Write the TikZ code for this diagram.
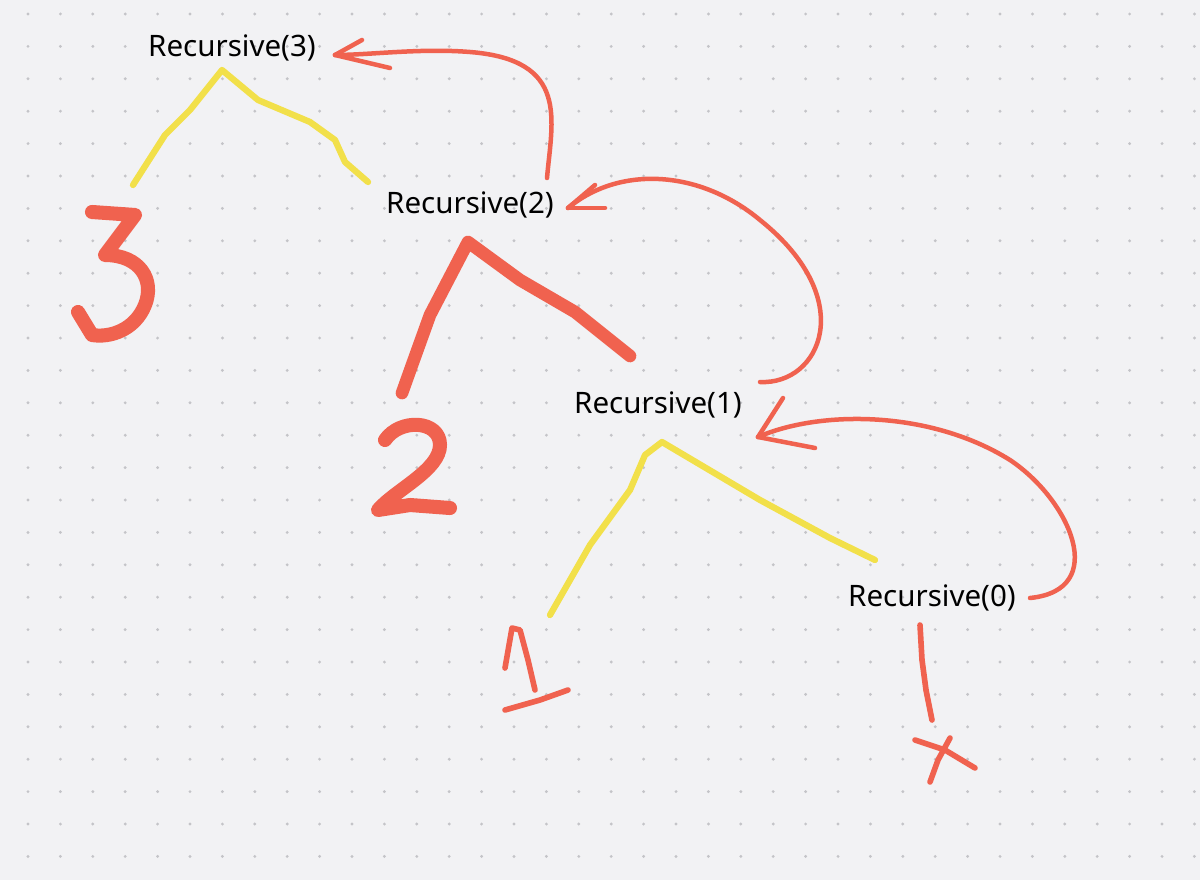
\documentclass[tikz,border=0pt]{standalone}
\usepackage{fontspec}
\setmainfont{Noto Sans}
\usetikzlibrary{arrows.meta}
\definecolor{bg}{HTML}{F2F2F4}
\definecolor{rd}{HTML}{F0624F}
\definecolor{yl}{HTML}{F2E04A}
\definecolor{dt}{HTML}{C4C4C8}
\begin{document}
\begin{tikzpicture}[x=0.025cm,y=-0.025cm,
  lbl/.style={font=\fontsize{21}{24}\selectfont,text=black},
  ybr/.style={draw=yl,line width=4.5pt,line cap=round,line join=round},
  rbr/.style={draw=rd,line width=9pt,line cap=round,line join=round},
  thin/.style={draw=rd,line width=4pt,line cap=round,line join=round},
  arr/.style={draw=rd,line width=3.2pt,line cap=round,line join=round},
  dig/.style={draw=rd,line width=10pt,line cap=round,line join=round}]
\fill[bg] (0,0) rectangle (1200,880);
\useasboundingbox (0,0) rectangle (1200,880);
\foreach \i in {0,...,37}{\foreach \j in {0,...,27}{
  \fill[dt] (28+\i*32.4,14+\j*32.4) circle (1.6);}}
\node[lbl] (r3) at (232,48) {Recursive(3)};
\node[lbl] (r2) at (470,205) {Recursive(2)};
\node[lbl] (r1) at (658,405) {Recursive(1)};
\node[lbl] (r0) at (932,598) {Recursive(0)};
% digit 3
\draw[dig] (92,212) -- (135,215) -- (105,255) .. controls (140,255) and (155,280) .. (145,305) .. controls (135,330) and (110,338) .. (92,335) -- (78,312);
% digit 2
\draw[dig] (385,440) .. controls (400,418) and (440,420) .. (440,445) .. controls (440,470) and (395,490) .. (378,510) -- (410,505) -- (450,508);
% yellow tree of 3
\coordinate (a1) at (133,185); \coordinate (a2) at (222,70); \coordinate (a3) at (368,182);
\draw[ybr] (a1) -- (165,135) -- (190,110) -- (a2) -- (258,100) -- (310,122) -- (335,140) -- (345,162) -- (a3);
% red tree of 2
\coordinate (b1) at (402,393); \coordinate (b2) at (468,242); \coordinate (b3) at (630,356);
\draw[rbr] (b1) -- (412,365) -- (430,315) -- (b2) -- (520,280) -- (575,312) -- (b3);
% yellow tree of 1
\coordinate (c1) at (550,615); \coordinate (c2) at (662,442); \coordinate (c3) at (875,560);
\draw[ybr] (c1) -- (590,545) -- (630,490) -- (645,455) -- (c2) -- (760,500) -- (830,538) -- (c3);
% hand-drawn 1
\coordinate (o1) at (512,628); \coordinate (o2) at (535,690);
\draw[thin] (505,668) -- (o1) -- (520,630) -- (528,660) -- (o2);
\draw[thin] (505,710) -- (540,700) -- (568,690);
% line of 0 and cross
\coordinate (z1) at (920,625); \coordinate (z2) at (932,720);
\draw[thin] (z1) -- (922,660) -- (926,690) -- (z2);
\draw[thin] (915,740) -- (945,750) -- (975,768);
\draw[thin] (950,738) -- (938,760) -- (930,782);
% arrows
\coordinate (s2) at (547,178); \coordinate (e3) at (335,55);
\draw[arr] (s2) .. controls (552,120) and (570,60) .. (470,52) .. controls (420,48) and (370,55) .. (e3);
\draw[arr] (e3) -- (362,40); \draw[arr] (e3) -- (390,68);
\coordinate (s1) at (760,382); \coordinate (e2) at (568,208);
\draw[arr] (s1) .. controls (820,385) and (860,300) .. (760,220) .. controls (700,170) and (620,165) .. (e2);
\draw[arr] (e2) -- (595,185); \draw[arr] (e2) -- (605,208);
\coordinate (s0) at (1030,598); \coordinate (e1) at (758,437);
\draw[arr] (s0) .. controls (1110,590) and (1070,500) .. (1010,460) .. controls (930,410) and (820,410) .. (e1);
\draw[arr] (e1) -- (783,398); \draw[arr] (e1) -- (815,448);
\end{tikzpicture}
\end{document}
